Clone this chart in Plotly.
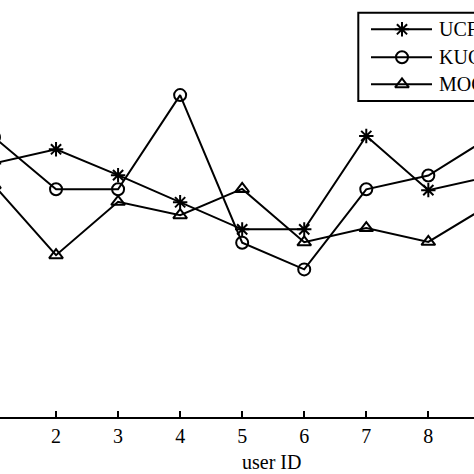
import plotly.graph_objects as go

user_ids = [1, 2, 3, 4, 5, 6, 7, 8, 9]
ucf = [0.608, 0.642, 0.580, 0.515, 0.450, 0.450, 0.674, 0.544, 0.577]
kucf = [0.671, 0.546, 0.546, 0.772, 0.418, 0.354, 0.546, 0.579, 0.672]
mocf = [0.556, 0.388, 0.516, 0.484, 0.547, 0.419, 0.453, 0.420, 0.510]
series_names = ["UCF", "KUCF", "MOCF"]
tick_labels = ["1", "2", "3", "4", "5", "6", "7", "8", "9"]

FONT = "Liberation Serif"
W, H = 474, 474
B = 57
PH = H - B  # plot-area height in px

fig = go.Figure()
symbols = ["asterisk-open", "circle-open", "triangle-up-open"]
for name, vals, sym in zip(series_names, [ucf, kucf, mocf], symbols):
    fig.add_trace(go.Scatter(
        x=user_ids, y=vals, name=name, mode="lines+markers", showlegend=False,
        line=dict(color="black", width=2),
        marker=dict(symbol=sym, size=12, color="black", line=dict(width=2, color="black")),
    ))

# hand-drawn legend (pixel overlay axes)
leg_rows = [29.3, 57.3, 84.3]
for name, sym, ry in zip(series_names, symbols, leg_rows):
    fig.add_trace(go.Scatter(
        x=[371, 402, 432], y=[ry, ry, ry], mode="lines", xaxis="x2", yaxis="y2",
        showlegend=False, hoverinfo="skip", line=dict(color="black", width=2)))
    fig.add_trace(go.Scatter(
        x=[402], y=[ry], mode="markers", xaxis="x2", yaxis="y2",
        showlegend=False, hoverinfo="skip",
        marker=dict(symbol=sym, size=12, color="black", line=dict(width=2, color="black"))))

annotations = [dict(text="user ID", x=5.48, xref="x", y=-0.108, yref="paper",
                    xanchor="center", yanchor="middle", showarrow=False,
                    font=dict(family=FONT, size=20, color="black"))]
for name, ry in zip(series_names, leg_rows):
    annotations.append(dict(text=name, x=437, xref="x2", y=ry, yref="y2",
                            xanchor="left", yanchor="middle", showarrow=False,
                            font=dict(family=FONT, size=20, color="black")))

fig.update_layout(
    width=W, height=H,
    margin=dict(l=0, r=0, t=0, b=B, autoexpand=False),
    paper_bgcolor="white", plot_bgcolor="white",
    font=dict(family=FONT, size=20, color="black"),
    showlegend=False,
    xaxis=dict(range=[1.097, 8.736], tickvals=user_ids, ticktext=tick_labels,
               showgrid=False, zeroline=False, showline=True, linecolor="black",
               linewidth=2, ticks="inside", ticklen=6, tickwidth=2, tickcolor="black",
               tickfont=dict(family=FONT, size=20, color="black")),
    yaxis=dict(range=[0, 1], visible=False, showgrid=False, zeroline=False),
    xaxis2=dict(range=[0, W], domain=[0, 1], overlaying="x", visible=False, fixedrange=True),
    yaxis2=dict(range=[PH, 0], domain=[0, 1], overlaying="y", visible=False, fixedrange=True),
    shapes=[dict(type="rect", xref="x2", yref="y2", x0=358.3, x1=490, y0=12.7, y1=101,
                 line=dict(color="black", width=2), fillcolor="white", layer="below")],
    annotations=annotations,
)
fig.write_html("out.html", config={"displayModeBar": False},
               post_script="document.body.style.margin='0px';document.body.style.overflow='hidden';")
